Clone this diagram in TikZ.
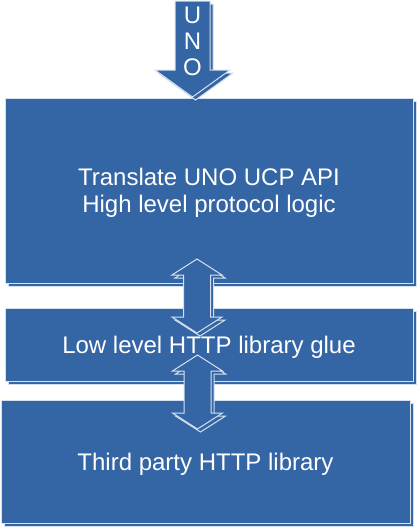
\documentclass[tikz,border=0pt]{standalone}
\usepackage{fontspec}
\setmainfont{Liberation Sans}
\usetikzlibrary{calc, shadows}

\definecolor{boxblue}{HTML}{3465A4}
\definecolor{boxedge}{HTML}{D6E0EE}

\begin{document}
\begin{tikzpicture}[x=1pt, y=-1pt, line width=1pt,
        blockshadow/.style={general shadow={shadow xshift=3pt, shadow yshift=-3pt, fill=boxblue, draw=boxedge}},
        block/.style={draw=boxedge, fill=boxblue, blockshadow, text=white, inner sep=0pt, align=center,
            text depth=0pt, font=\fontsize{24}{27}\selectfont},
        blockarrow/.style={draw=boxedge, fill=boxblue, blockshadow, line join=miter}]
            \useasboundingbox (0, 0) rectangle (419, 530);
            \node[block, minimum width=408, minimum height=185] (api) at (209, 190.5) {Translate UNO UCP API\\High level protocol logic};
            \node[block, minimum width=408, minimum height=73] (glue) at (209, 344.5) {Low level HTTP library glue};
            \node[block, minimum width=409, minimum height=123] (lib) at (205.5, 462) {Third party HTTP library};
            % incoming call
            \coordinate (uno) at (192.5, 97);
            \draw[blockarrow] ($(uno)+(-17.5, -96)$) -- ($(uno)+(-17.5, -27)$) -- ($(uno)+(-37.5, -27)$) -- (uno)
                -- ($(uno)+(37.5, -27)$) -- ($(uno)+(17.5, -27)$) -- ($(uno)+(17.5, -96)$) -- cycle;
            \node[text=white, align=center, inner sep=0pt, font=\fontsize{24}{26}\selectfont] (unotext) at ($(uno)+(0, -56)$) {U\\N\\O};
            % links between the layers
            \coordinate (up1) at (197, 259);
            \coordinate (dn1) at (197, 333);
            \coordinate (up2) at (197.5, 355);
            \coordinate (dn2) at (197.5, 429);
            \foreach \u/\d in {up1/dn1, up2/dn2}
                \draw[blockarrow] (\u) -- ($(\u)+(25, 16)$) -- ($(\u)+(13.5, 16)$) -- ($(\d)+(13.5, -16)$) -- ($(\d)+(25, -16)$) -- (\d)
                    -- ($(\d)+(-25, -16)$) -- ($(\d)+(-13.5, -16)$) -- ($(\u)+(-13.5, 16)$) -- ($(\u)+(-25, 16)$) -- cycle;
        \end{tikzpicture}
\end{document}
